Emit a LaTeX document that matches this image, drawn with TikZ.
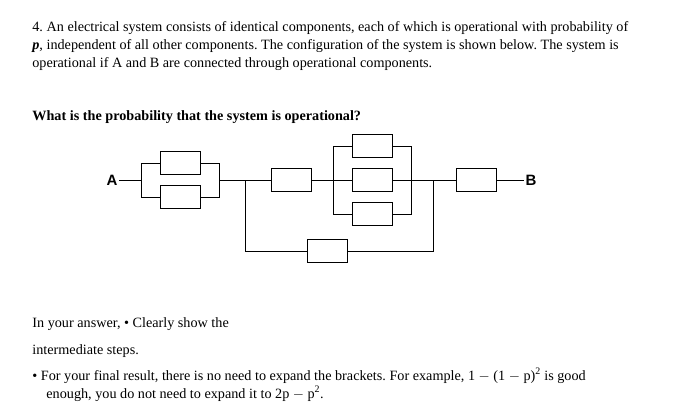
\documentclass[tikz,border=0pt]{standalone}
\usepackage{fontspec}
\setmainfont{Liberation Serif}
\newfontfamily\labelfont{Liberation Sans}
\frenchspacing
\usetikzlibrary{positioning}
\tikzset{
  comp/.style={draw, thick, minimum width=40pt, minimum height=23pt, inner sep=0pt},
  txt/.style={anchor=base west, inner sep=0pt, font=\fontsize{14.2}{16}\selectfont},
  term/.style={inner sep=1pt, font=\labelfont\bfseries\fontsize{15}{17}\selectfont},
}
\begin{document}
\begin{tikzpicture}[x=1pt, y=-1pt, line width=0.8pt]
  \useasboundingbox (0,0) rectangle (691,420);
  % Question text
  \node[txt] (l1) at (32,32) {4. An electrical system consists of identical components, each of which is operational with probability of};
  \node[txt] (l2) at (32,50) {\textbf{\textit{p}}, independent of all other components. The configuration of the system is shown below. The system is};
  \node[txt] (l3) at (32,68) {operational if A and B are connected through operational components.};
  \node[txt, font=\bfseries\fontsize{14.2}{16}\selectfont] (q) at (32,121) {What is the probability that the system is operational?};
  % Terminals
  \node[term] (A) at (112,180) {A};
  \node[term] (B) at (531,180) {B};
  % Components
  \node[comp] (c1) at (180,163) {};
  \node[comp] (c2) at (180,197) {};
  \node[comp] (c3) at (291,180) {};
  \node[comp] (c4) at (372,146) {};
  \node[comp] (c5) at (372,180) {};
  \node[comp] (c6) at (372,214) {};
  \node[comp] (c7) at (476,180) {};
  \node[comp] (c8) at (327,251) {};
  % Wiring
  \draw (A.east) -- (141,180) coordinate (j1);
  \draw (141,163) -- (141,197);
  \draw (141,163) -- (c1.west) (141,197) -- (c2.west);
  \draw (c1.east) -- (219,163) -- (219,197) -- (c2.east);
  \draw (219,180) -- (c3.west);
  \draw (245,180) -- (245,251) -- (c8.west);
  \draw (c8.east) -- (433,251) -- (433,180);
  \draw (c3.east) -- (c5.west);
  \draw (333,146) -- (333,214);
  \draw (333,146) -- (c4.west) (333,214) -- (c6.west);
  \draw (c4.east) -- (411,146) -- (411,214) -- (c6.east);
  \draw (c5.east) -- (c7.west);
  \draw (c7.east) -- (B.west);
  % Answer notes
  \node[txt] (n1) at (32,327) {In your answer, \textbullet\ Clearly show the};
  \node[txt] (n2) at (32,354) {intermediate steps.};
  \node[txt] (n3) at (32,380) {\textbullet\ For your final result, there is no need to expand the brackets. For example, 1 $-$ (1 $-$ p)\textsuperscript{2} is good};
  \node[txt] (n4) at (46,398) {enough, you do not need to expand it to 2p $-$ p\textsuperscript{2}.};
\end{tikzpicture}
\end{document}
